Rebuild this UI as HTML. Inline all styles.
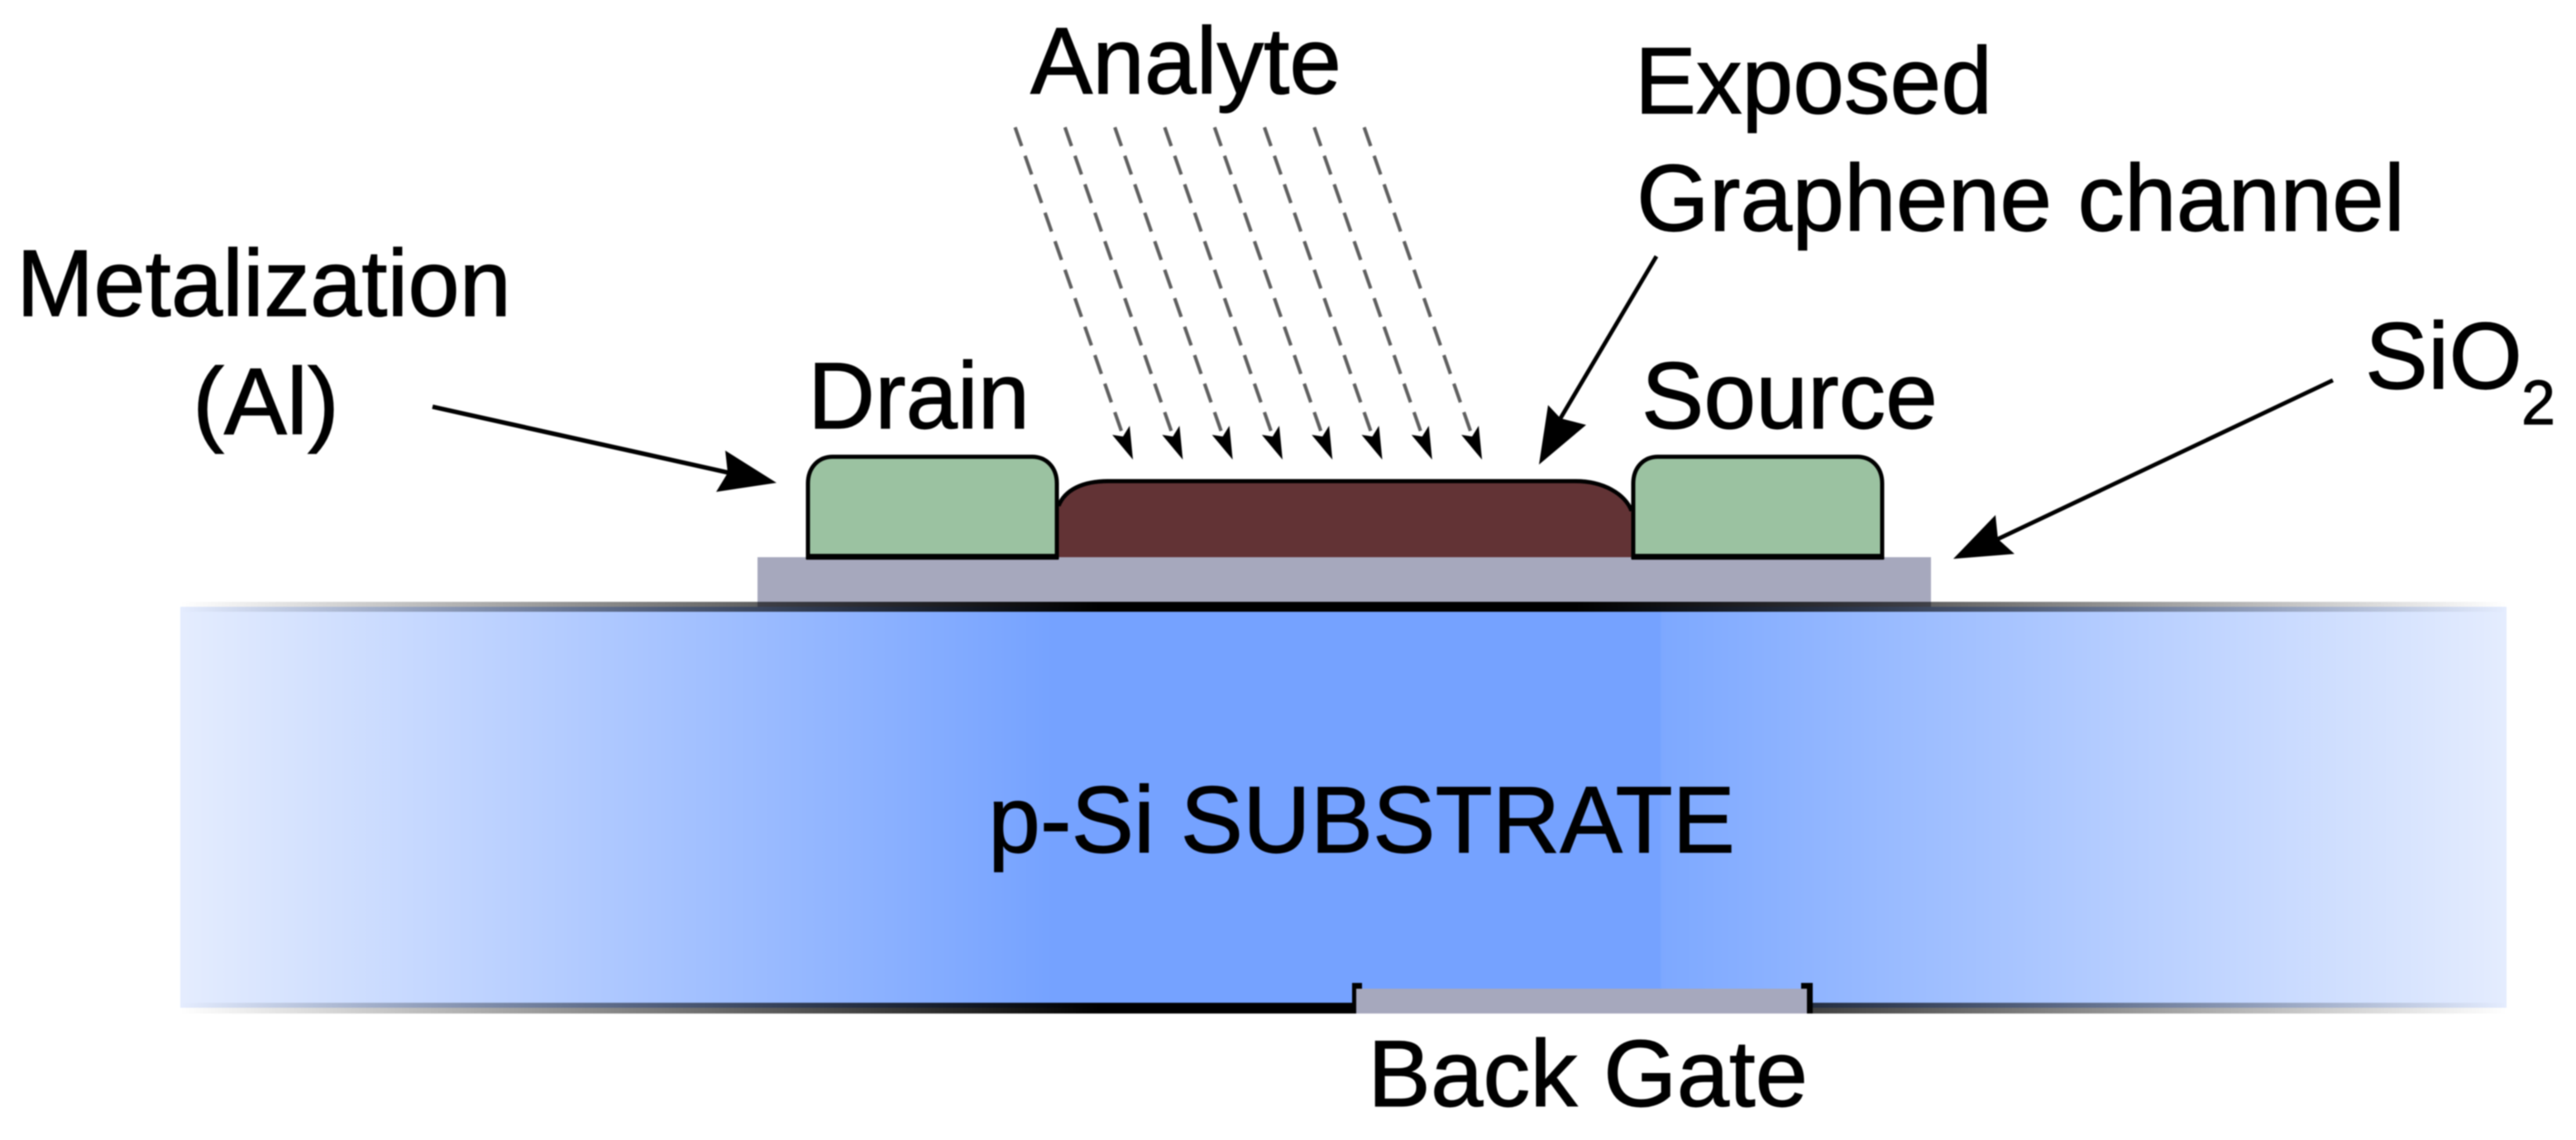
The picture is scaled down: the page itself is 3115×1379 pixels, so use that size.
<!DOCTYPE html>
<html>
<head>
<meta charset="utf-8">
<style>
html,body{margin:0;padding:0;background:#fff;width:3115px;height:1379px;overflow:hidden}
svg{display:block;position:absolute;left:0;top:0;filter:blur(0.7px)}
text{font-family:"Liberation Sans",Arial,sans-serif;fill:#000;stroke:#000;stroke-width:1.2px}
</style>
</head>
<body>
<svg width="3115" height="1379" viewBox="0 0 3115 1379" xmlns="http://www.w3.org/2000/svg">
<defs>
<linearGradient id="sub" gradientUnits="userSpaceOnUse" x1="218" y1="0" x2="3031" y2="0">
<stop offset="0" stop-color="#e4ecfe"/>
<stop offset="0.375" stop-color="#75a2ff"/>
<stop offset="0.636" stop-color="#75a2ff"/>
<stop offset="0.637" stop-color="#7da8ff"/>
<stop offset="1" stop-color="#e4ecfe"/>
</linearGradient>
<linearGradient id="line" gradientUnits="userSpaceOnUse" x1="218" y1="0" x2="3031" y2="0">
<stop offset="0" stop-color="#000" stop-opacity="0"/>
<stop offset="0.395" stop-color="#000" stop-opacity="1"/>
<stop offset="0.6" stop-color="#000" stop-opacity="1"/>
<stop offset="1" stop-color="#000" stop-opacity="0"/>
</linearGradient>
<g id="da">
<line x1="1227.5" y1="154" x2="1358" y2="527" stroke="#606060" stroke-width="4.2" stroke-dasharray="24 12.5"/>
<polygon points="1370,556 1345,526 1358,528 1366,515" fill="#000"/>
</g>
</defs>

<!-- substrate -->
<rect x="218" y="734" width="2813" height="485" fill="url(#sub)"/>

<!-- SiO2 -->
<rect x="916" y="674" width="1419" height="60" fill="#a6a8bd"/>

<!-- shadow lines -->
<rect x="218" y="728" width="2813" height="12" fill="url(#line)"/>
<rect x="218" y="1213" width="2813" height="13" fill="url(#line)"/>

<!-- back gate -->
<rect x="1640" y="1196" width="545" height="30" fill="#a6a8bd"/>
<path d="M1635,1189H1647V1196H1640V1226H1635Z" fill="#000"/>
<path d="M2178,1189H2192V1226H2185V1196H2178Z" fill="#000"/>

<!-- channel -->
<path d="M1280,674V612C1288,592 1310,582 1340,582H1905C1940,582 1965,598 1973,618V674Z" fill="#623335" stroke="none"/>
<path d="M1280,612C1288,592 1310,582 1340,582H1905C1940,582 1965,598 1973,618" fill="none" stroke="#000" stroke-width="5"/>

<!-- drain -->
<path d="M977,674V585C977,565 990,552.5 1007,552.5H1248C1265,552.5 1278,565 1278,585V674Z" fill="#9bc2a1" stroke="#000" stroke-width="5"/>
<rect x="975" y="670" width="305" height="7" fill="#000"/>
<!-- source -->
<path d="M1975,674V585C1975,565 1988,552.5 2005,552.5H2246C2263,552.5 2276,565 2276,585V674Z" fill="#9bc2a1" stroke="#000" stroke-width="5"/>
<rect x="1973" y="670" width="305" height="7" fill="#000"/>

<!-- analyte arrows -->
<use href="#da"/>
<use href="#da" x="60.3"/>
<use href="#da" x="120.6"/>
<use href="#da" x="180.9"/>
<use href="#da" x="241.2"/>
<use href="#da" x="301.5"/>
<use href="#da" x="361.8"/>
<use href="#da" x="422.1"/>

<!-- solid arrows -->
<line x1="523" y1="492" x2="882" y2="572" stroke="#000" stroke-width="5.5"/>
<polygon points="939,584 866,595 880,572 877,545" fill="#000"/>

<line x1="2003" y1="310" x2="1887" y2="506" stroke="#000" stroke-width="5"/>
<polygon points="1861,562 1872,490 1887,506 1918,514" fill="#000"/>

<line x1="2821" y1="460" x2="2416" y2="652" stroke="#000" stroke-width="5"/>
<polygon points="2362,676 2413,623 2416,652 2436,670" fill="#000"/>

<!-- labels -->
<text x="1246" y="113" font-size="114" textLength="376" lengthAdjust="spacingAndGlyphs">Analyte</text>
<text x="1977" y="137" font-size="114" textLength="432" lengthAdjust="spacingAndGlyphs">Exposed</text>
<text x="1979" y="279" font-size="114" textLength="929" lengthAdjust="spacingAndGlyphs">Graphene channel</text>
<text x="20" y="382" font-size="114" textLength="598" lengthAdjust="spacingAndGlyphs">Metalization</text>
<text x="233" y="525" font-size="114" textLength="177" lengthAdjust="spacingAndGlyphs">(Al)</text>
<text x="977" y="518" font-size="114" textLength="268" lengthAdjust="spacingAndGlyphs">Drain</text>
<text x="1985" y="518" font-size="114" textLength="358" lengthAdjust="spacingAndGlyphs">Source</text>
<text x="2860" y="470" font-size="114" textLength="190" lengthAdjust="spacingAndGlyphs">SiO</text>
<text x="3049" y="513" font-size="76" textLength="41" lengthAdjust="spacingAndGlyphs">2</text>
<text x="1195" y="1031" font-size="114" textLength="903" lengthAdjust="spacingAndGlyphs">p-Si SUBSTRATE</text>
<text x="1654" y="1338" font-size="114" textLength="532" lengthAdjust="spacingAndGlyphs">Back Gate</text>
</svg>
</body>
</html>
